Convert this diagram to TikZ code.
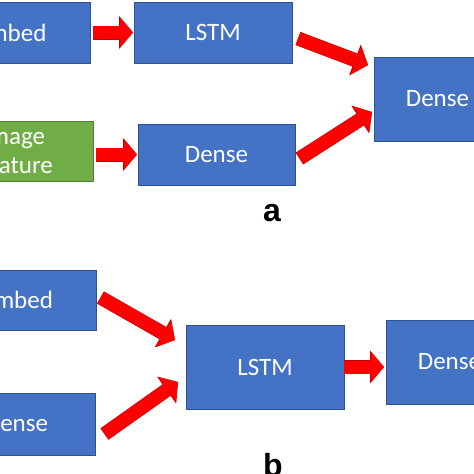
\documentclass[tikz,border=0pt]{standalone}
\usepackage{fontspec}
\setmainfont{Carlito}
\newfontfamily\labfont{Liberation Sans}
\usetikzlibrary{arrows.meta}
\definecolor{boxblue}{HTML}{4472C4}
\definecolor{boxedge}{HTML}{2F528F}
\definecolor{boxgreen}{HTML}{70AD47}
\definecolor{greenedge}{HTML}{507E32}
\definecolor{arrowedge}{HTML}{C00000}

\tikzset{
  blk/.style={draw=boxedge, line width=0.6pt, fill=boxblue, text=white, inner sep=0pt, outer sep=0pt,
    minimum width=158pt, minimum height=61pt, align=center, font=\fontsize{25}{29}\selectfont},
  fat/.style={red, line width=13pt, -{Triangle[length=0pt 1, width=0pt 2.3]},
    preaction={draw=arrowedge, line width=14pt, -{Triangle[length=0pt 1, width=0pt 2.3]}}},
  lab/.style={font=\labfont\bfseries\fontsize{32}{36}\selectfont}
}

\begin{document}
\begin{tikzpicture}[x=1pt, y=-1pt]
\useasboundingbox (0,0) rectangle (474,474);
\clip (0,0) rectangle (474,474);

% panel a
\node[blk] (embedA) at (11,32.5) {Embed};
\node[blk] (lstmA) at (213,32.5) {LSTM};
\node[blk, fill=boxgreen, draw=greenedge, minimum height=60pt] (imgA) at (14,151) {Image\\Feature};
\node[blk, minimum width=157pt] (denseA) at (216.5,154.5) {Dense};
\node[blk, minimum width=127pt, minimum height=84pt] (outA) at (437.5,99) {Dense};
\node[lab] (labA) at (272,213) {a};

\draw[fat, shorten <=3pt, shorten >=1pt] (embedA) -- (lstmA);
\draw[fat, shorten <=3pt, shorten >=1pt] (imgA.east |- denseA.west) -- (denseA.west);
\draw[fat] ([shift={(6,6)}]lstmA.east) -- ([shift={(-6,8)}]outA.north west);
\draw[fat] ([shift={(4.5,4)}]denseA.east) -- ([shift={(-2,13)}]outA.west);

% panel b
\node[blk, minimum height=60pt] (embedB) at (17.5,300) {Embed};
\node[blk, minimum height=62pt] (denseB) at (16.5,424) {Dense};
\node[blk, minimum height=84pt] (lstmB) at (265,367) {LSTM};
\node[blk, minimum width=127pt, minimum height=84pt] (outB) at (449.5,362) {Dense};
\node[lab] (labB) at (273,465) {b};

\draw[fat] ([shift={(4,-2.5)}]embedB.east) -- ([shift={(-11,15)}]lstmB.north west);
\draw[fat] ([shift={(9,10)}]denseB.east) -- ([shift={(-8,15)}]lstmB.west);
\draw[fat, shorten >=2pt] (lstmB) -- (lstmB -| outB.west);
\end{tikzpicture}
\end{document}
